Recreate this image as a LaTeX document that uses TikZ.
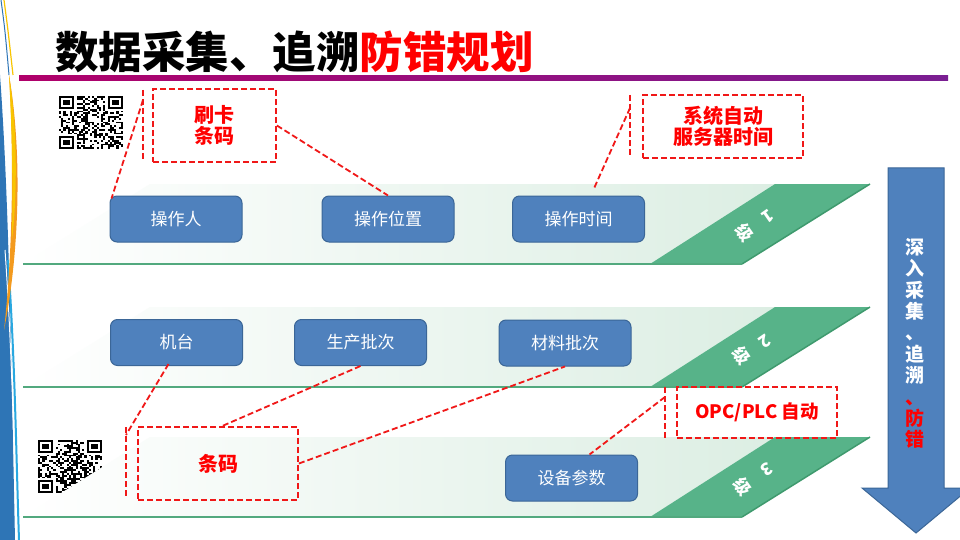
\documentclass[tikz,border=0pt]{standalone}
\usepackage{fontspec}
\setmainfont{Noto Sans CJK SC}
\usetikzlibrary{calc}
\definecolor{boxblue}{HTML}{4F81BD}
\definecolor{boxedge}{HTML}{3B6697}
\definecolor{dgreen}{HTML}{57B389}
\definecolor{dgreenedge}{HTML}{3F9A6E}
\definecolor{lgreen}{HTML}{DCEEE3}
\definecolor{gline}{HTML}{52A97E}
\definecolor{dashred}{HTML}{F01818}
\definecolor{tred}{HTML}{FF0000}
\definecolor{mag}{HTML}{B0006A}
\definecolor{purp}{HTML}{7A1E92}
\definecolor{swblue}{HTML}{2E75B6}
\definecolor{swcyan}{HTML}{29A8E0}
\definecolor{swyellow}{HTML}{F8C500}
\definecolor{sworange}{HTML}{F39A1E}
\newcommand\qrblock[3]{%
\begin{scope}[shift={(#1,#2)}, x=2.207pt, y=-1.83pt]
\pgfmathsetseed{#3}
\foreach \qi in {0,...,28}{\foreach \qj in {0,...,28}{%
  \pgfmathparse{rnd>0.52 ? 1 : 0}\let\qrv\pgfmathresult
  \ifdim\qrv pt>0.5pt \fill[black] (\qi,\qj) rectangle ++(1,1);\fi
}}
\foreach \cx/\cy/\wx/\wy in {0/0/0/0, 22/0/21/0, 0/22/0/21}{%
  \fill[white] (\wx,\wy) rectangle ++(8,8);
  \fill[black] (\cx,\cy) rectangle ++(7,7);
  \fill[white] (\cx+1,\cy+1) rectangle ++(5,5);
  \fill[black] (\cx+2,\cy+2) rectangle ++(3,3);
}
\end{scope}}
\tikzset{
  bbox/.style={rounded corners=7pt, fill=boxblue, draw=boxedge, line width=1pt,
    text=white, font=\fontsize{17}{20}\selectfont, minimum width=132pt,
    minimum height=46pt, inner sep=0pt},
  rbox/.style={draw=dashred, line width=1.8pt, dash pattern=on 6pt off 3pt,
    text=tred, font=\bfseries\fontsize{20}{21}\selectfont, align=center, inner sep=0pt},
  conn/.style={draw=dashred, line width=1.8pt, dash pattern=on 6pt off 3pt},
  lvl/.style={text=white, font=\bfseries\fontsize{17}{17}\selectfont, inner sep=0pt},
}
\begin{document}
\begin{tikzpicture}[x=1pt,y=-1pt]
\useasboundingbox (0,0) rectangle (960,540);
\fill[white] (0,0) rectangle (960,540);
% left swooshes
\draw[swyellow, line width=1.2pt] (4,0) .. controls (8,30) .. (13,75);
\draw[swblue, line width=1pt] (1,0) .. controls (5,30) .. (9,75);
\fill[swblue] (0,75) .. controls (9,200) and (11,350) .. (15,540) -- (0,540) -- cycle;
\draw[white, line width=1pt] (5,250) .. controls (12,350) and (14,450) .. (17,540);
\draw[swcyan, line width=2pt] (8,260) .. controls (15,360) and (16,450) .. (19,540);
\fill[sworange] (9,75) .. controls (22,150) and (20,250) .. (4,330) .. controls (13,250) and (14,150) .. (9,75) -- cycle;
\fill[swyellow] (9,75) .. controls (18,130) and (17,200) .. (12,240) .. controls (13,180) and (12,130) .. (9,75) -- cycle;
% title bar line
\shade[left color=mag, right color=purp] (19,76) rectangle (948,81);
\node[anchor=west, inner sep=0pt, font=\bfseries\fontsize{43.5}{44}\selectfont] (title) at (55,52) {数据采集、追溯\textcolor{tred}{防错规划}};
% QR codes
\qrblock{59}{96}{7}
\qrblock{38}{440}{23}
% bands
\foreach \T in {184,307,437}{
  \shade[left color=white, right color=lgreen] (23,\T+80) -- (150,\T) -- (775,\T) -- (650,\T+80) -- cycle;
  \fill[dgreen] (650,\T+80) -- (775,\T) -- (870,\T) -- (742,\T+80) -- cycle;
  \draw[dgreenedge, line width=1.5pt] (870,\T) -- (742,\T+80);
  \draw[gline, line width=2.5pt] (23,\T+80) -- (742,\T+80);
}
% level labels
\node[lvl, rotate=-145] (n1) at (768,217) {1};
\node[lvl, rotate=-55] (j1) at (745,233) {级};
\node[lvl, rotate=-145] (n2) at (765,342) {2};
\node[lvl, rotate=-55] (j2) at (742,356) {级};
\node[lvl, rotate=-145] (n3) at (767,470) {3};
\node[lvl, rotate=-55] (j3) at (743,487) {级};
% blue boxes
\node[bbox] (op1) at (176,219) {操作人};
\node[bbox] (op2) at (388,219) {操作位置};
\node[bbox] (op3) at (578.5,219) {操作时间};
\node[bbox] (m1) at (176.5,342.5) {机台};
\node[bbox] (m2) at (360.5,342.5) {生产批次};
\node[bbox] (m3) at (565,343) {材料批次};
\node[bbox] (d1) at (571.5,478) {设备参数};
% red dashed boxes
\node[rbox, minimum width=123pt, minimum height=73pt] (r1) at (214.5,125.5) {刷卡\\条码};
\node[rbox, minimum width=160pt, minimum height=63pt] (r2) at (723,126.5) {系统自动\\服务器时间};
\node[rbox, minimum width=160pt, minimum height=73pt] (r3) at (218,463.5) {条码};
\node[rbox, minimum width=160pt, minimum height=51pt, font=\bfseries\fontsize{18.5}{20}\selectfont] (r4) at (757,412.5) {OPC/PLC 自动};
% vertical dashed markers
\coordinate (v1a) at (143,90); \coordinate (v1b) at (143,160);
\coordinate (v2a) at (630,95); \coordinate (v2b) at (630,157);
\coordinate (v3a) at (126,427); \coordinate (v3b) at (126,498);
\coordinate (v4a) at (665,387); \coordinate (v4b) at (665,438);
\draw[conn] (v1a) -- (v1b);
\draw[conn] (v2a) -- (v2b);
\draw[conn] (v3a) -- (v3b);
\draw[conn] (v4a) -- (v4b);
% connectors
\coordinate (c1) at (143,100);
\draw[conn] (c1) -- ($(op1.north west)+(2,3)$);
\draw[conn] (r1.east) -- (op2.north);
\coordinate (c2) at (630,108);
\draw[conn] (c2) -- ($(op3.north)+(15,-6)$);
\coordinate (c3) at (126,435);
\draw[conn] ($(m1.south)+(-8,-2)$) -- (c3);
\draw[conn] (m2.south) -- ($(r3.north)+(4,0)$);
\draw[conn] (r3.east) -- (m3.south);
\coordinate (c4) at (665,397);
\draw[conn] (c4) -- ($(d1.north)+(18,0)$);
% right arrow
\fill[boxblue, draw=boxedge, line width=1pt] (888,168) -- (944,168) -- (944,488) -- (970,488) -- (916,533) -- (862,488) -- (888,488) -- cycle;
\node[text=white, font=\bfseries\fontsize{19}{21.4}\selectfont, align=center, inner sep=0pt] (arrtext) at (915,343.5)
 {深\\入\\采\\集\\、\\追\\溯\\\textcolor{tred}{、}\\\textcolor{tred}{防}\\\textcolor{tred}{错}};
\end{tikzpicture}
\end{document}
